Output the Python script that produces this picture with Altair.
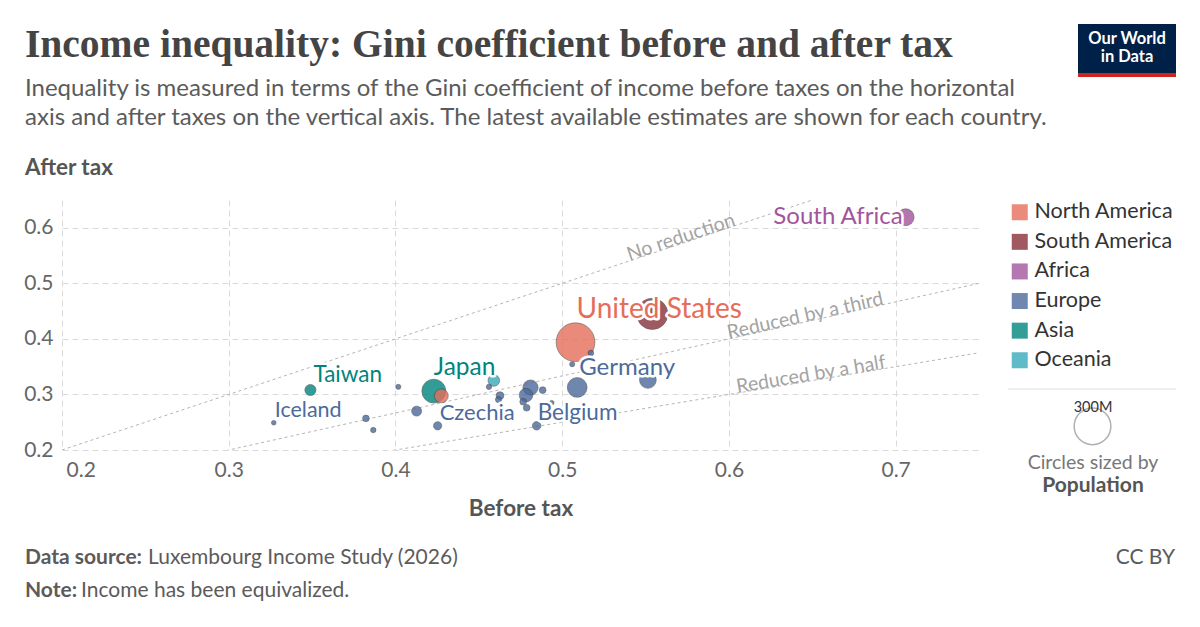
import math

import altair as alt
import pandas as pd

# Latest Luxembourg Income Study estimates: Gini before and after taxes
countries = [
    "United States", "Brazil", "South Africa", "Japan", "Canada", "Taiwan",
    "Australia", "Iceland", "Slovakia", "Slovenia", "Estonia", "Netherlands",
    "Czechia", "Lithuania", "Austria", "Ireland", "Spain", "Poland", "Denmark",
    "Finland", "Norway", "Luxembourg", "Belgium", "Germany", "Latvia",
    "Greece", "Italy",
]
continents = [
    "North America", "South America", "Africa", "Asia", "North America", "Asia",
    "Oceania", "Europe", "Europe", "Europe", "Europe", "Europe",
    "Europe", "Europe", "Europe", "Europe", "Europe", "Europe", "Europe",
    "Europe", "Europe", "Europe", "Europe", "Europe", "Europe",
    "Europe", "Europe",
]
gini_before = [
    0.508, 0.554, 0.706, 0.423, 0.4275, 0.349,
    0.459, 0.327, 0.3823, 0.3867, 0.4017, 0.4127,
    0.4253, 0.4561, 0.4627, 0.4618, 0.4810, 0.4783, 0.4883,
    0.4766, 0.4787, 0.4937, 0.4847, 0.5090, 0.5060,
    0.5172, 0.5514,
]
gini_after = [
    0.394, 0.445, 0.619, 0.306, 0.2975, 0.308,
    0.3252, 0.249, 0.2569, 0.2359, 0.3137, 0.2700,
    0.2436, 0.3137, 0.2979, 0.2907, 0.3123, 0.2988, 0.3078,
    0.2868, 0.2760, 0.2850, 0.2436, 0.3126, 0.3545,
    0.3747, 0.3261,
]
population_m = [
    335, 216, 60, 125, 39, 23.5,
    26, 0.38, 5.4, 2.1, 1.3, 17.9,
    10.9, 2.0, 9.1, 4.0, 48, 37, 5.9,
    5.5, 5.5, 0.66, 11.7, 84, 1.3,
    2.8, 59,
]

continent_order = ["North America", "South America", "Africa", "Europe", "Asia", "Oceania"]
continent_colors = ["#e56e5a", "#883039", "#a2559c", "#4c6a9c", "#00847e", "#38aaba"]

# Comparison lines: after-tax Gini as a share of the before-tax Gini
ref_ratios = [1.0, 2 / 3, 0.5]
ref_names = ["No reduction", "Reduced by a third", "Reduced by a half"]
ref_label_x = [0.5724, 0.6465, 0.6498]

x_ticks = [0.2, 0.3, 0.4, 0.5, 0.6, 0.7]
y_ticks = [0.2, 0.3, 0.4, 0.5, 0.6]
x_domain = [0.2, 0.75]
y_domain = [0.2, 0.65]

W, H = 917, 250
FONT = "Lato"

df = pd.DataFrame({
    "country": countries,
    "continent": continents,
    "before": gini_before,
    "after": gini_after,
    "population": population_m,
})

ref_rows = []
for name, r in zip(ref_names, ref_ratios):
    for xv in x_domain:
        ref_rows.append({"line": name, "before": xv, "after": r * xv})
ref_df = pd.DataFrame(ref_rows)

px_per_x = W / (x_domain[1] - x_domain[0])
px_per_y = H / (y_domain[1] - y_domain[0])
ref_lab_df = pd.DataFrame({
    "line": ref_names,
    "before": ref_label_x,
    "after": [r * xv for r, xv in zip(ref_ratios, ref_label_x)],
    "angle": [360 - math.degrees(math.atan(r * px_per_y / px_per_x)) for r in ref_ratios],
})

xs = alt.Scale(domain=x_domain, nice=False, zero=False)
ys = alt.Scale(domain=y_domain, nice=False, zero=False)
x_axis = alt.Axis(
    values=x_ticks, format=".1f", title="Before tax", grid=True, domain=False, ticks=False,
    gridColor="#dadada", gridDash=[6, 4], gridWidth=1,
    labelFont=FONT, labelFontSize=21, labelColor="#666666", labelPadding=9,
    labelFlush=True, labelFlushOffset=-4,
    titleFont=FONT, titleFontSize=22.5, titleFontWeight="bold", titleColor="#555555",
    titlePadding=17,
)
y_axis = alt.Axis(
    values=y_ticks, format=".1f", title=None, grid=True, domain=False, ticks=False,
    gridColor="#dadada", gridDash=[6, 4], gridWidth=1,
    labelFont=FONT, labelFontSize=21, labelColor="#666666", labelPadding=9,
)
X = alt.X("before:Q", scale=xs, axis=x_axis)
Y = alt.Y("after:Q", scale=ys, axis=y_axis)
size_scale = alt.Scale(domain=[0, 300], range=[20, 1346])
color_scale = alt.Scale(domain=continent_order, range=continent_colors)
legend = alt.Legend(
    title=None, orient="none", legendX=947, legendY=1.5, padding=0,
    symbolType="square", symbolSize=256, symbolStrokeWidth=0, symbolOpacity=0.8,
    labelFont=FONT, labelFontSize=21.5, labelColor="#333333", labelOffset=4,
    rowPadding=6.6, labelLimit=300,
)

ref_lines = alt.Chart(ref_df).mark_line(
    clip=True, color="#b5b5b5", strokeDash=[3, 3], strokeWidth=1
).encode(x=X, y=Y, detail="line:N")

ref_labels = alt.Chart(ref_lab_df).mark_text(
    font=FONT, fontSize=19.5, color="#a3a3a3", align="center", baseline="alphabetic"
).encode(x=X, y=Y, text="line:N", angle=alt.Angle("angle:Q", scale=None))

points = alt.Chart(df).mark_circle(
    opacity=0.8, stroke="#3c3c3c", strokeWidth=0.6
).encode(
    x=X, y=Y,
    size=alt.Size("population:Q", scale=size_scale, legend=None),
    color=alt.Color("continent:N", scale=color_scale, legend=legend),
    order=alt.Order("population:Q", sort="descending"),
)

# Country labels: (country, dx, dy, align, font size)
label_specs = [
    ("United States", 1, -32, "left", 28),
    ("South Africa", -3, 0, "right", 24),
    ("Germany", 2, -19, "left", 24),
    ("Japan", 0, -23, "left", 24.5),
    ("Taiwan", 3, -15, "left", 22.5),
    ("Iceland", 1, -12, "left", 21.5),
    ("Czechia", 2, -13, "left", 22),
    ("Belgium", 1, -13, "left", 22.5),
]
label_layers = []
for name, dx, dy, align, fs in label_specs:
    base = alt.Chart(df).transform_filter(alt.datum.country == name)
    halo = base.mark_text(
        font=FONT, fontSize=fs, dx=dx, dy=dy, align=align, baseline="middle",
        stroke="white", strokeWidth=5, strokeJoin="round", fill="white",
    ).encode(x=X, y=Y, text="country:N")
    txt = base.mark_text(
        font=FONT, fontSize=fs, dx=dx, dy=dy, align=align, baseline="middle",
    ).encode(
        x=X, y=Y, text="country:N",
        color=alt.Color("continent:N", scale=color_scale, legend=legend),
    )
    label_layers += [halo, txt]

one = pd.DataFrame({"k": [0]})


def note(text, x, y, size, color, weight="normal", align="left", font=FONT):
    return alt.Chart(one).mark_text(
        text=text, font=font, fontSize=size, color=color, fontWeight=weight,
        align=align, baseline="middle",
    ).encode(x=alt.value(x), y=alt.value(y))


def box(x, x2, y, y2, color):
    return alt.Chart(one).mark_rect(color=color).encode(
        x=alt.value(x), x2=alt.value(x2), y=alt.value(y), y2=alt.value(y2)
    )


# Size key for the population circles
size_key = alt.Chart(pd.DataFrame({"population": [300]})).mark_circle(
    fill="white", fillOpacity=0, stroke="#b0b0b0", strokeWidth=1.5, opacity=1
).encode(
    x=alt.value(1030.5), y=alt.value(226.3),
    size=alt.Size("population:Q", scale=size_scale, legend=None),
)
separator = alt.Chart(one).mark_rule(color="#dddddd", strokeWidth=1).encode(
    x=alt.value(946), x2=alt.value(1114), y=alt.value(189)
)

texts = [
    note("Income inequality: Gini coefficient before and after tax", -37, -155, 39.5,
         "#444444", weight="bold", font="Liberation Serif"),
    note("Inequality is measured in terms of the Gini coefficient of income before taxes on the horizontal",
         -37, -111, 24, "#5b5b5b"),
    note("axis and after taxes on the vertical axis. The latest available estimates are shown for each country.",
         -37, -82, 24, "#5b5b5b"),
    note("After tax", -37, -32, 22.5, "#555555", weight="bold"),
    note("300M", 1031, 208, 14.5, "#333333", align="center"),
    note("Circles sized by", 1031, 263, 19.5, "#777777", align="center"),
    note("Population", 1031, 286, 21, "#555555", weight="bold", align="center"),
    note("Data source:", -37, 358, 21, "#5b5b5b", weight="bold"),
    note("Luxembourg Income Study (2026)", 86, 358, 21, "#5b5b5b"),
    note("Note:", -37, 391, 21, "#5b5b5b", weight="bold"),
    note("Income has been equivalized.", 19, 391, 21, "#5b5b5b"),
    note("CC BY", 1113, 358, 21, "#5b5b5b", align="right"),
    note("Our World", 1065, -161, 16.5, "white", weight="bold", align="center"),
    note("in Data", 1065, -143, 16.5, "white", weight="bold", align="center"),
]

logo = [box(1016, 1114, -176, -127, "#002147"), box(1016, 1114, -127, -123, "#ce261e")]

chart = alt.layer(
    ref_lines, ref_labels, points, *label_layers, separator, size_key, *logo, *texts
).properties(
    width=W, height=H,
    padding={"left": 62, "top": 200, "right": 221, "bottom": 177},
    autosize=alt.AutoSizeParams(type="none"),
    background="white",
).configure_view(stroke=None)

chart.save("out.html", embed_options={"renderer": "svg", "actions": False})
